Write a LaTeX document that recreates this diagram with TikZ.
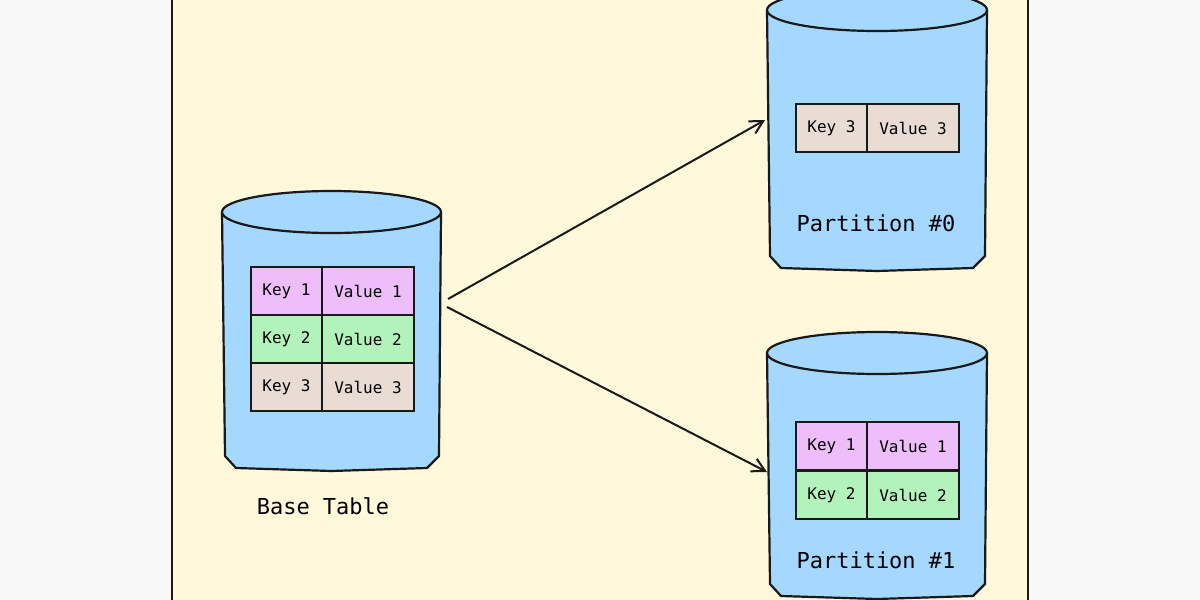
\documentclass[tikz,border=0pt]{standalone}
\usepackage{fontspec}
\setmainfont{DejaVu Sans Mono}
\usetikzlibrary{arrows.meta}
\definecolor{bg}{HTML}{F8F8F8}
\definecolor{panel}{HTML}{FFF8DB}
\definecolor{cyl}{HTML}{A5D8FF}
\definecolor{pk}{HTML}{EEBEFA}
\definecolor{gr}{HTML}{B2F2BB}
\definecolor{be}{HTML}{E8DCD5}
\tikzset{
  cell/.style={draw=black!90, line width=2pt, minimum height=48pt, inner sep=0pt, font=\fontsize{16}{18}\selectfont, anchor=north west},
  kc/.style={cell, minimum width=71pt},
  vc/.style={cell, minimum width=92pt},
  lbl/.style={font=\fontsize{22}{24}\selectfont},
  arr/.style={-{Straight Barb[length=13pt,width=14pt]}, line width=2pt, draw=black!90},
  cylline/.style={draw=black!90, line width=2.2pt, fill=cyl, line join=round}
}
\newcommand{\mycyl}[4]{% x1, x2, ytop, ybottom
  \fill[cyl] (#1,#3) -- (#1+3,#4-12) -- (#1+14,#4) -- ({(#1+#2)/2},#4+3) -- (#2-14,#4) -- (#2-2,#4-12) -- (#2,#3) -- cycle;
  \draw[cylline] (#1,#3) -- (#1+3,#4-12) -- (#1+14,#4) -- ({(#1+#2)/2},#4+3) -- (#2-14,#4) -- (#2-2,#4-12) -- (#2,#3);
  \draw[cylline] ({(#1+#2)/2},#3) ellipse ({(#2-#1)/2} and 21);
}
\begin{document}
\begin{tikzpicture}[x=1pt,y=-1pt]
\useasboundingbox (0,0) rectangle (1200,600);
\fill[bg] (0,0) rectangle (1200,600);
\draw[fill=panel, line width=2pt, draw=black!90] (172,-10) rectangle (1028,610);
% base
\mycyl{222}{441}{212}{468}
\node[kc, fill=pk] (b1k) at (250,266) {Key 1};
\node[vc, fill=pk] (b1v) at (321,266) {Value 1};
\node[kc, fill=gr] (b2k) at (250,314) {Key 2};
\node[vc, fill=gr] (b2v) at (321,314) {Value 2};
\node[kc, fill=be] (b3k) at (250,362) {Key 3};
\node[vc, fill=be] (b3v) at (321,362) {Value 3};
\node[lbl] (bl) at (323,506) {Base Table};
% partition 0
\mycyl{767}{987}{10}{268}
\node[kc, fill=be] (p0k) at (795,103) {Key 3};
\node[vc, fill=be] (p0v) at (866,103) {Value 3};
\node[lbl] (p0l) at (876,223) {Partition \#0};
% partition 1
\mycyl{767}{987}{353}{596}
\node[kc, fill=pk] (p1k1) at (795,421) {Key 1};
\node[vc, fill=pk] (p1v1) at (866,421) {Value 1};
\node[kc, fill=gr] (p1k2) at (795,470) {Key 2};
\node[vc, fill=gr] (p1v2) at (866,470) {Value 2};
\node[lbl] (p1l) at (876,560) {Partition \#1};
% arrows
\coordinate (a0s) at (448,299);
\coordinate (a0e) at (765,120);
\coordinate (a1s) at (447,307);
\coordinate (a1e) at (767,472);
\draw[arr] (a0s) -- (a0e);
\draw[arr] (a1s) -- (a1e);
\end{tikzpicture}
\end{document}
